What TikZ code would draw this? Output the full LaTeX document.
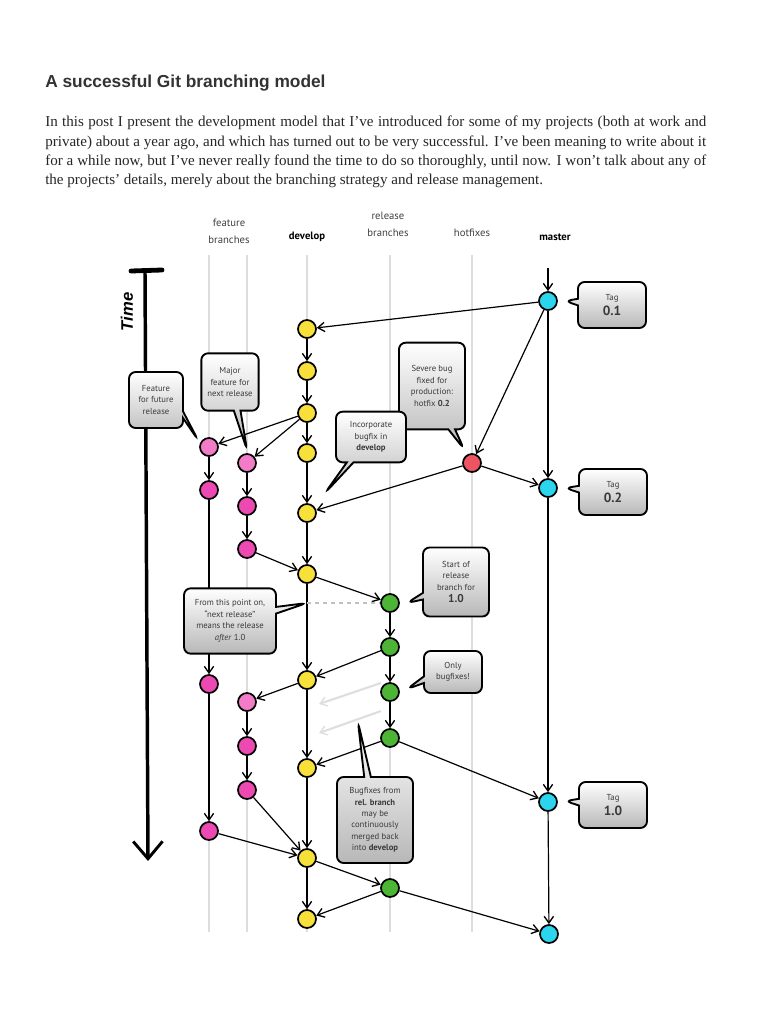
\documentclass[tikz,border=0pt]{standalone}
\usepackage{fontspec}
\setmainfont{Liberation Serif}
\newfontfamily\headfont{Liberation Sans}
\newfontfamily\notefont{PT Sans}
\usetikzlibrary{arrows.meta,shapes.callouts,positioning}
\tikzset{>={Straight Barb[length=5pt,width=7pt,line width=1pt]}}

\definecolor{devyellow}{HTML}{F7E03A}
\definecolor{featpink}{HTML}{EC4AB2}
\definecolor{featlight}{HTML}{F27CC8}
\definecolor{relgreen}{HTML}{4DB535}
\definecolor{hotred}{HTML}{EE5563}
\definecolor{mastcyan}{HTML}{2CD5EE}
\definecolor{lanegray}{HTML}{DDDDDD}
\definecolor{notetext}{HTML}{3A3A3A}

\tikzset{
  commit/.style={circle, draw=black, line width=1.3pt, fill=#1, minimum size=13.5pt, inner sep=0pt},
  flow/.style={->, line width=0.9pt},
  lane/.style={lanegray, line width=2.2pt},
  note/.style={rectangle callout, draw=black, line width=1.4pt, rounded corners=5pt,
    top color=white, bottom color=black!28, text=notetext, align=center, inner sep=2pt,
    callout pointer width=5pt, font=\notefont\fontsize{6.5}{8.6}\selectfont},
  lanehead/.style={font=\notefont\fontsize{8}{12.6}\selectfont, text=black!75, align=center},
  boldhead/.style={font=\notefont\bfseries\fontsize{8}{12.6}\selectfont, text=black},
}

\begin{document}
\begin{tikzpicture}[x=0.75pt,y=-0.75pt]
    \useasboundingbox (0,0) rectangle (768,1024);
    % title and intro text
    \node[anchor=base west, inner sep=0pt, text=black!80, font=\headfont\bfseries\fontsize{13}{15}\selectfont] (title) at (45,88) {A successful Git branching model};
    \foreach \txt [count=\i] in {{In this post I present the development model that I’ve introduced for some of my projects (both at work and},
      {private) about a year ago, and which has turned out to be very successful. I’ve been meaning to write about it},
      {for a while now, but I’ve never really found the time to do so thoroughly, until now. I won’t talk about any of}}
    \node[anchor=base west, inner sep=0pt, text=black!85, font=\fontsize{11.3}{13}\selectfont] (para\i) at (45,108+19*\i) {\makebox[495.75pt][s]{\txt}};
    \node[anchor=base west, inner sep=0pt, text=black!85, font=\fontsize{11.3}{13}\selectfont] (para4) at (45,184) {the projects’ details, merely about the branching strategy and release management.};

    % lanes and their heads
    \foreach \lx in {209,247,307,390,472}
    \draw[lane] (\lx,255) -- (\lx,932);
    \node[lanehead] (hfeat) at (229,231) {feature\\branches};
    \node[boldhead] (hdev) at (307,237) {develop};
    \node[lanehead] (hrel) at (388,224) {release\\branches};
    \node[lanehead] (hhot) at (472,233) {hotfixes};
    \node[boldhead] (hmast) at (555,237) {master};

    % time axis
    \coordinate (tstart) at (145,272);
    \coordinate (tend) at (148,861);
    \draw[line width=2.6pt, -{Straight Barb[length=13pt,width=22pt,line width=2.2pt]}] (tstart) -- (tend);
    \draw[line width=3.6pt, line cap=round] (131,271) -- (162,270);
    \node[rotate=90, font=\headfont\bfseries\itshape\fontsize{12.5}{14}\selectfont] (timelbl) at (127,312) {Time};

    % commits
    \node[commit=mastcyan] (m1) at (548,301) {};
    \node[commit=mastcyan] (m2) at (548,488) {};
    \node[commit=mastcyan] (m3) at (548,802) {};
    \node[commit=mastcyan] (m4) at (549,934) {};
    \foreach \n/\y in {1/329,2/371,3/413,4/453,5/513,6/574,7/680,8/768,9/858,10/919}
    \node[commit=devyellow] (d\n) at (307,\y) {};
    \node[commit=featlight] (fa1) at (209,447) {};
    \node[commit=featpink] (fa2) at (209,490) {};
    \node[commit=featpink] (fa3) at (209,684) {};
    \node[commit=featpink] (fa4) at (209,831) {};
    \node[commit=featlight] (fb1) at (247,463) {};
    \node[commit=featpink] (fb2) at (247,506) {};
    \node[commit=featpink] (fb3) at (247,549) {};
    \node[commit=featlight] (fb4) at (247,702) {};
    \node[commit=featpink] (fb5) at (247,746) {};
    \node[commit=featpink] (fb6) at (247,790) {};
    \node[commit=hotred] (h1) at (472,463) {};
    \foreach \n/\y in {1/603,2/647,3/692,4/738,5/888}
    \node[commit=relgreen] (r\n) at (390,\y) {};

    % connectors
    \coordinate (mstart) at (548,268);
    \draw[flow] (mstart) -- (m1);
    \foreach \a/\b in {m1/m2,m2/m3,m3/m4,d1/d2,d2/d3,d3/d4,d4/d5,d5/d6,d6/d7,d7/d8,d8/d9,d9/d10,
      fa1/fa2,fa2/fa3,fa3/fa4,fb1/fb2,fb2/fb3,fb4/fb5,fb5/fb6,r1/r2,r2/r3,r3/r4,
      m1/d1,m1/h1,h1/m2,h1/d5,d3/fa1,d3/fb1,fb3/d6,d6/r1,r2/d7,d7/fb4,r4/d8,r4/m3,
      fa4/d9,fb6/d9,d9/r5,r5/d10,r5/m4}
    \draw[flow] (\a) -- (\b);
    \coordinate (cut) at (307,603);
    \draw[dashed, black!25, line width=0.8pt] (cut) -- (r1);
    \coordinate (g1s) at (381,683);
    \coordinate (g1e) at (319,704);
    \coordinate (g2s) at (381,711);
    \coordinate (g2e) at (319,733);
    \draw[flow, black!13, line width=1.6pt] (g1s) -- (g1e);
    \draw[flow, black!13, line width=1.6pt] (g2s) -- (g2e);

    % callouts
    \node[note, minimum width=51pt, minimum height=34.5pt, callout absolute pointer={(565,301)}] (tag1) at (612,305) {Tag\\[2pt]{\fontsize{10}{11}\selectfont\bfseries 0.1}};
    \node[note, minimum width=51pt, minimum height=34.5pt, callout absolute pointer={(565,488)}] (tag2) at (613,492) {Tag\\[2pt]{\fontsize{10}{11}\selectfont\bfseries 0.2}};
    \node[note, minimum width=51pt, minimum height=34.5pt, callout absolute pointer={(565,801)}] (tag3) at (613,805) {Tag\\[2pt]{\fontsize{10}{11}\selectfont\bfseries 1.0}};
    \node[note, minimum width=49.5pt, minimum height=65pt, callout absolute pointer={(464,449)}] (severe) at (432,386) {Severe bug\\fixed for\\production:\\hotfix \textbf{0.2}};
    \node[note, minimum width=52.5pt, minimum height=38pt, callout absolute pointer={(325,493)}] (incorp) at (371,437) {Incorporate\\bugfix in\\\textbf{develop}};
    \node[note, minimum width=43pt, minimum height=43pt, callout absolute pointer={(247,450)}] (major) at (230,382) {Major\\feature for\\next release};
    \node[note, minimum width=40.5pt, minimum height=42pt, callout absolute pointer={(198,440)}] (future) at (156,400) {Feature\\for future\\release};
    \node[note, minimum width=49.5pt, minimum height=51.75pt, callout absolute pointer={(407,603)}] (relstart) at (456,582) {Start of\\release\\branch for\\[1pt]{\fontsize{8.5}{10}\selectfont\bfseries 1.0}};
    \node[note, minimum width=69pt, minimum height=49pt, callout absolute pointer={(cut)}] (nextrel) at (230,621) {From this point on,\\“next release”\\means the release\\\textit{after} 1.0};
    \node[note, minimum width=43.5pt, minimum height=31.5pt, callout absolute pointer={(407,689)}] (onlyfix) at (453,672) {Only\\bugfixes!};
    \node[note, minimum width=57pt, minimum height=64.5pt, callout absolute pointer={(358,722)}] (backmerge) at (375,820) {Bugfixes from\\\textbf{rel. branch}\\may be\\continuously\\merged back\\into \textbf{develop}};
\end{tikzpicture}
\end{document}
